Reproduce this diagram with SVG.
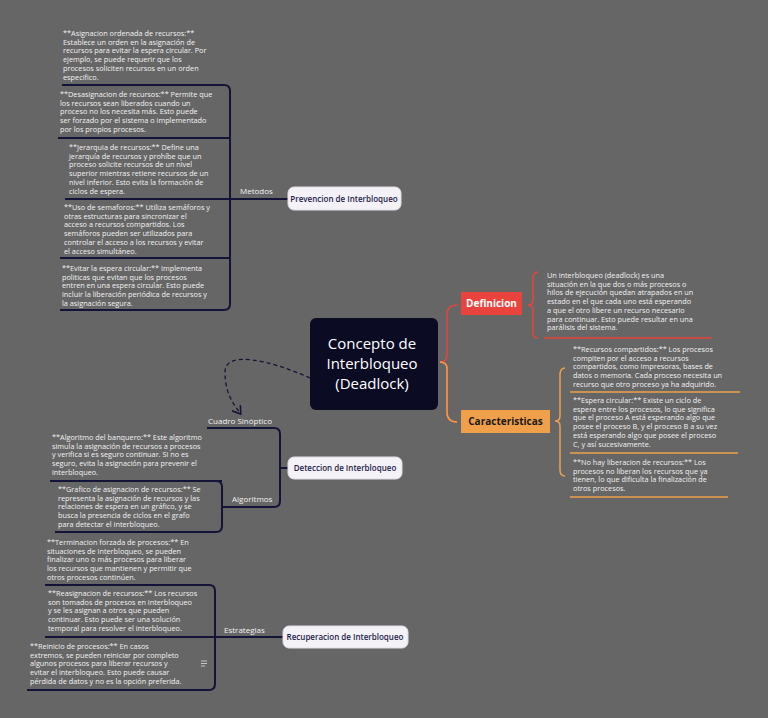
<svg xmlns="http://www.w3.org/2000/svg" width="768" height="718" viewBox="0 0 768 718">
<style>
.t{font-family:"Open Sans","DejaVu Sans",sans-serif;font-size:7.3px;fill:#f2f2f2}
.lb{font-family:"Open Sans","DejaVu Sans",sans-serif;font-size:8px;fill:#f2f2f2}
.nb{fill:#f4f2f6;stroke:#e0dde6;stroke-width:1}
.nt{font-family:"Open Sans","DejaVu Sans",sans-serif;font-size:8px;font-weight:600;fill:#1c1c4a;text-anchor:middle}
.ln{fill:none;stroke:#141438;stroke-width:2}
</style>
<defs><marker id="ah" markerWidth="8" markerHeight="8" refX="5" refY="4" orient="auto"><path d="M0,0L6,4L0,8" fill="none" stroke="#141438" stroke-width="1.2"/></marker></defs>
<rect width="768" height="718" fill="#666666"/>
<g id="connectors">
<path class="ln" d="M288,199H230 M62,85H224Q230,85 230,91V304Q230,310 224,310H60 M58,138H230 M65,199H230 M60,258H230"/>
<path class="ln" d="M288,468H280 M207,428H274Q280,428 280,434V501Q280,507 274,507H222 M50,481H222 M55,532H216Q222,532 222,526V487Q222,481 216,481"/>
<path class="ln" d="M283,637H215 M45,585H209Q215,585 215,591V684Q215,690 209,690H27 M45,637H215"/>
<path d="M310,378C270,360 225,350 225,372C225,392 232,402 240,413" fill="none" stroke="#141438" stroke-width="1.3" stroke-dasharray="4,3" marker-end="url(#ah)"/>
<path d="M457,305Q447,305 447,315V355Q447,362 440,362 M440,362Q447,362 447,369V412Q447,422 457,422" fill="none" stroke="#e8433c" stroke-width="1.5"/>
<path d="M440,362Q447,362 447,369V412Q447,422 457,422" fill="none" stroke="#f0a04b" stroke-width="1.5"/>
<path d="M538,272Q533,272 533,278V300Q533,305 528,305Q533,305 533,310V332Q533,338 538,338 M544,338H712" fill="none" stroke="#e8433c" stroke-width="1.5"/>
<path d="M565,368Q560,368 560,375V416Q560,421 555,421Q560,421 560,426V470Q560,476 565,476 M570,392H740 M570,453H738 M570,497H728" fill="none" stroke="#f0a04b" stroke-width="1.5"/>
</g>
<g id="central"><rect x="310" y="318" width="128" height="92" rx="6" fill="#0b0b24"/>
<text font-family="Open Sans,DejaVu Sans,sans-serif" font-size="15" fill="#fff" text-anchor="middle"><tspan x="372" y="349">Concepto de</tspan><tspan x="372" y="369">Interbloqueo</tspan><tspan x="372" y="389">(Deadlock)</tspan></text></g>
<g id="prevencion"><rect class="nb" x="288" y="187" width="113" height="23" rx="6"/><text class="nt" x="344" y="202">Prevencion de Interbloqueo</text><text class="lb" x="240" y="194">Metodos</text></g>
<g id="p1"><text class="t"><tspan x="63" y="36">**Asignacion ordenada de recursos:**</tspan><tspan x="63" y="44.7">Establece un orden en la asignación de</tspan><tspan x="63" y="53.4">recursos para evitar la espera circular. Por</tspan><tspan x="63" y="62.1">ejemplo, se puede requerir que los</tspan><tspan x="63" y="70.8">procesos soliciten recursos en un orden</tspan><tspan x="63" y="79.5">especifico.</tspan></text></g>
<g id="p2"><text class="t"><tspan x="60" y="97">**Desasignacion de recursos:** Permite que</tspan><tspan x="60" y="105.7">los recursos sean liberados cuando un</tspan><tspan x="60" y="114.4">proceso no los necesita más. Esto puede</tspan><tspan x="60" y="123.1">ser forzado por el sistema o implementado</tspan><tspan x="60" y="131.8">por los propios procesos.</tspan></text></g>
<g id="p3"><text class="t"><tspan x="69" y="150">**Jerarquia de recursos:** Define una</tspan><tspan x="69" y="158.7">jerarquía de recursos y prohíbe que un</tspan><tspan x="69" y="167.4">proceso solicite recursos de un nivel</tspan><tspan x="69" y="176.1">superior mientras retiene recursos de un</tspan><tspan x="69" y="184.8">nivel inferior. Esto evita la formación de</tspan><tspan x="69" y="193.5">ciclos de espera.</tspan></text></g>
<g id="p4"><text class="t"><tspan x="64" y="210">**Uso de semaforos:** Utiliza semáforos y</tspan><tspan x="64" y="218.7">otras estructuras para sincronizar el</tspan><tspan x="64" y="227.4">acceso a recursos compartidos. Los</tspan><tspan x="64" y="236.1">semáforos pueden ser utilizados para</tspan><tspan x="64" y="244.8">controlar el acceso a los recursos y evitar</tspan><tspan x="64" y="253.5">el acceso simultáneo.</tspan></text></g>
<g id="p5"><text class="t"><tspan x="62" y="271">**Evitar la espera circular:** Implementa</tspan><tspan x="62" y="279.7">politicas que evitan que los procesos</tspan><tspan x="62" y="288.4">entren en una espera circular. Esto puede</tspan><tspan x="62" y="297.1">incluir la liberación periódica de recursos y</tspan><tspan x="62" y="305.8">la asignación segura.</tspan></text></g>
<g id="deteccion"><rect class="nb" x="288" y="457" width="114" height="22" rx="6"/><text class="nt" x="345" y="471">Deteccion de Interbloqueo</text><text class="lb" x="208" y="424">Cuadro Sinóptico</text><text class="lb" x="232" y="502">Algoritmos</text></g>
<g id="d1"><text class="t"><tspan x="52" y="440">**Algoritmo del banquero:** Este algoritmo</tspan><tspan x="52" y="448.7">simula la asignación de recursos a procesos</tspan><tspan x="52" y="457.4">y verifica si es seguro continuar. Si no es</tspan><tspan x="52" y="466.1">seguro, evita la asignación para prevenir el</tspan><tspan x="52" y="474.8">interbloqueo.</tspan></text></g>
<g id="d2"><text class="t"><tspan x="58" y="492">**Grafico de asignacion de recursos:** Se</tspan><tspan x="58" y="500.7">representa la asignación de recursos y las</tspan><tspan x="58" y="509.4">relaciones de espera en un gráfico, y se</tspan><tspan x="58" y="518.1">busca la presencia de ciclos en el grafo</tspan><tspan x="58" y="526.8">para detectar el interbloqueo.</tspan></text></g>
<g id="recuperacion"><rect class="nb" x="283" y="626" width="125" height="22" rx="6"/><text class="nt" x="345" y="640">Recuperacion de Interbloqueo</text><text class="lb" x="224" y="633">Estrategias</text></g>
<g id="r1"><text class="t"><tspan x="47" y="545">**Terminacion forzada de procesos:** En</tspan><tspan x="47" y="553.7">situaciones de interbloqueo, se pueden</tspan><tspan x="47" y="562.4">finalizar uno o más procesos para liberar</tspan><tspan x="47" y="571.1">los recursos que mantienen y permitir que</tspan><tspan x="47" y="579.8">otros procesos continúen.</tspan></text></g>
<g id="r2"><text class="t"><tspan x="48" y="596">**Reasignacion de recursos:** Los recursos</tspan><tspan x="48" y="604.7">son tomados de procesos en interbloqueo</tspan><tspan x="48" y="613.4">y se les asignan a otros que pueden</tspan><tspan x="48" y="622.1">continuar. Esto puede ser una solución</tspan><tspan x="48" y="630.8">temporal para resolver el interbloqueo.</tspan></text></g>
<g id="r3"><text class="t"><tspan x="30" y="649">**Reinicio de procesos:** En casos</tspan><tspan x="30" y="657.7">extremos, se pueden reiniciar por completo</tspan><tspan x="30" y="666.4">algunos procesos para liberar recursos y</tspan><tspan x="30" y="675.1">evitar el interbloqueo. Esto puede causar</tspan><tspan x="30" y="683.8">pérdida de datos y no es la opción preferida.</tspan></text>
<path d="M201,661h6M201,663.5h6M201,666h4" stroke="#ddd" stroke-width="0.8"/></g>
<g id="definicion"><rect x="461" y="292" width="61" height="23" fill="#e8433c"/><text x="491.5" y="307" font-family="Open Sans,DejaVu Sans,sans-serif" font-size="10" font-weight="700" fill="#fff" text-anchor="middle">Definicion</text>
<text class="t"><tspan x="547" y="278">Un interbloqueo (deadlock) es una</tspan><tspan x="547" y="286.7">situación en la que dos o más procesos o</tspan><tspan x="547" y="295.4">hilos de ejecución quedan atrapados en un</tspan><tspan x="547" y="304.1">estado en el que cada uno está esperando</tspan><tspan x="547" y="312.8">a que el otro libere un recurso necesario</tspan><tspan x="547" y="321.5">para continuar. Esto puede resultar en una</tspan><tspan x="547" y="330.2">parálisis del sistema.</tspan></text></g>
<g id="caracteristicas"><rect x="461" y="410" width="89" height="23" fill="#f0a04b"/><text x="505.5" y="425" font-family="Open Sans,DejaVu Sans,sans-serif" font-size="10" font-weight="700" fill="#1a1a1a" text-anchor="middle">Caracteristicas</text>
<text class="t"><tspan x="573" y="352">**Recursos compartidos:** Los procesos</tspan><tspan x="573" y="360.7">compiten por el acceso a recursos</tspan><tspan x="573" y="369.4">compartidos, como impresoras, bases de</tspan><tspan x="573" y="378.1">datos o memoria. Cada proceso necesita un</tspan><tspan x="573" y="386.8">recurso que otro proceso ya ha adquirido.</tspan></text>
<text class="t"><tspan x="573" y="403">**Espera circular:** Existe un ciclo de</tspan><tspan x="573" y="411.7">espera entre los procesos, lo que significa</tspan><tspan x="573" y="420.4">que el proceso A está esperando algo que</tspan><tspan x="573" y="429.1">posee el proceso B, y el proceso B a su vez</tspan><tspan x="573" y="437.8">está esperando algo que posee el proceso</tspan><tspan x="573" y="446.5">C, y así sucesivamente.</tspan></text>
<text class="t"><tspan x="573" y="465">**No hay liberacion de recursos:** Los</tspan><tspan x="573" y="473.7">procesos no liberan los recursos que ya</tspan><tspan x="573" y="482.4">tienen, lo que dificulta la finalización de</tspan><tspan x="573" y="491.1">otros procesos.</tspan></text></g>
</svg>
